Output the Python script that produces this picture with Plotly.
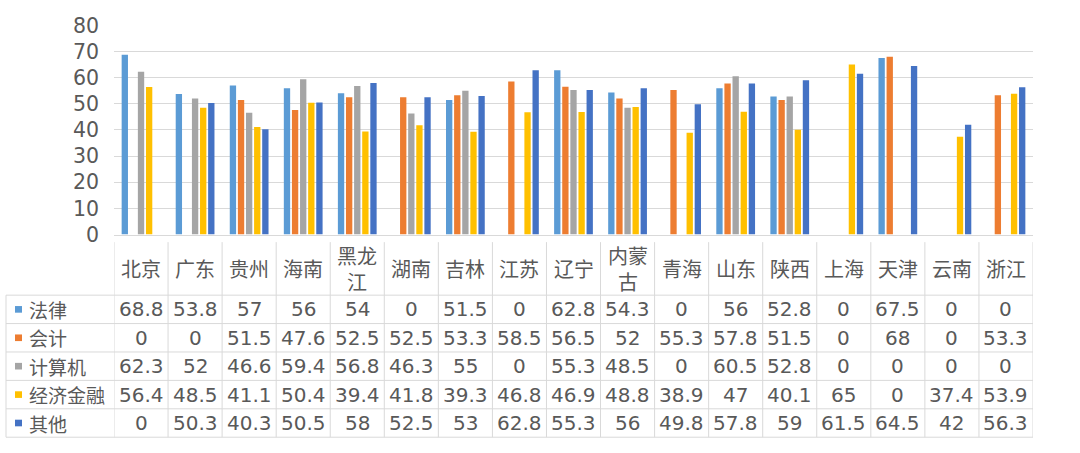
import plotly.graph_objects as go

provinces = ["北京", "广东", "贵州", "海南", "黑龙江", "湖南", "吉林", "江苏", "辽宁",
             "内蒙古", "青海", "山东", "陕西", "上海", "天津", "云南", "浙江"]
tick_labels = ["北京", "广东", "贵州", "海南", "黑龙<br>江", "湖南", "吉林", "江苏", "辽宁",
               "内蒙<br>古", "青海", "山东", "陕西", "上海", "天津", "云南", "浙江"]

law = [68.8, 53.8, 57, 56, 54, 0, 51.5, 0, 62.8, 54.3, 0, 56, 52.8, 0, 67.5, 0, 0]
accounting = [0, 0, 51.5, 47.6, 52.5, 52.5, 53.3, 58.5, 56.5, 52, 55.3, 57.8, 51.5, 0, 68, 0, 53.3]
computer = [62.3, 52, 46.6, 59.4, 56.8, 46.3, 55, 0, 55.3, 48.5, 0, 60.5, 52.8, 0, 0, 0, 0]
finance = [56.4, 48.5, 41.1, 50.4, 39.4, 41.8, 39.3, 46.8, 46.9, 48.8, 38.9, 47, 40.1, 65, 0, 37.4, 53.9]
other = [0, 50.3, 40.3, 50.5, 58, 52.5, 53, 62.8, 55.3, 56, 49.8, 57.8, 59, 61.5, 64.5, 42, 56.3]

series_names = ["法律", "会计", "计算机", "经济金融", "其他"]
series_values = [law, accounting, computer, finance, other]
colors = ["#5B9BD5", "#ED7D31", "#A5A5A5", "#FFC000", "#4472C4"]

W, H = 1080, 453
CJK = "Noto Sans CJK SC"
NUM = "DejaVu Sans"
TXT = "#595959"
GRID = "#D9D9D9"


def py(pix):
    # pixel row -> paper y
    return 1 - pix / H


fig = go.Figure()
xs = list(range(len(provinces)))
for name, vals, col in zip(series_names, series_values, colors):
    fig.add_trace(go.Bar(x=xs, y=vals, name=name, marker_color=col,
                         marker_line_width=0))

shapes = []
annotations = []

# table grid
row_lines = [299, 329, 359, 389, 419, 449]
for r in row_lines:
    shapes.append(dict(type="line", xref="paper", yref="paper", x0=6 / W, x1=1033 / W,
                       y0=py(r), y1=py(r), line=dict(color=GRID, width=1)))
for i in range(len(provinces) + 1):
    shapes.append(dict(type="line", xref="x", yref="paper", x0=i - 0.5, x1=i - 0.5,
                       y0=py(243), y1=py(449), line=dict(color=GRID, width=1)))
shapes.append(dict(type="line", xref="paper", yref="paper", x0=6 / W, x1=6 / W,
                   y0=py(299), y1=py(449), line=dict(color=GRID, width=1)))

# category labels
for i, lab in enumerate(tick_labels):
    annotations.append(dict(xref="x", yref="paper", x=i, y=py(271), text=lab,
                            showarrow=False, font=dict(size=20, color=TXT, family=CJK),
                            xanchor="center", yanchor="middle"))

# row headers and values
row_centers = [314, 344, 374, 404, 434]
for name, vals, col, rc in zip(series_names, series_values, colors, row_centers):
    shapes.append(dict(type="rect", xref="paper", yref="paper", x0=15 / W, x1=22 / W,
                       y0=py(rc + 3.5), y1=py(rc - 3.5), fillcolor=col, line=dict(width=0)))
    annotations.append(dict(xref="paper", yref="paper", x=27 / W, y=py(rc), text=name,
                            showarrow=False, font=dict(size=19, color=TXT, family=CJK),
                            xanchor="left", yanchor="middle"))
    for i, v in enumerate(vals):
        annotations.append(dict(xref="x", yref="paper", x=i, y=py(rc), text=f"{v:g}",
                                showarrow=False, font=dict(size=20, color=TXT, family=NUM),
                                xanchor="center", yanchor="middle"))

fig.update_layout(
    width=W, height=H,
    margin=dict(l=0, r=0, t=0, b=0),
    paper_bgcolor="white", plot_bgcolor="white",
    barmode="group", bargap=0.25, bargroupgap=0.22,
    showlegend=False,
    font=dict(family=CJK, color=TXT),
    shapes=shapes, annotations=annotations,
    xaxis=dict(domain=[114 / W, 1033 / W], range=[-0.5, len(provinces) - 0.5],
               showticklabels=False, showgrid=False, zeroline=False,
               showline=True, linecolor=GRID, linewidth=1, ticks=""),
    yaxis=dict(domain=[py(235), py(14)], range=[0, 80.05], dtick=10,
               showgrid=True, gridcolor=GRID, gridwidth=1, zeroline=False,
               tickfont=dict(size=20.5, color=TXT, family=NUM), ticks="",
               ticklabelstandoff=14),
)

# drop the page's default body margin so the figure sits at the window corner
fig.write_html("out.html", config={"displayModeBar": False},
               post_script="document.body.style.margin='0';")
